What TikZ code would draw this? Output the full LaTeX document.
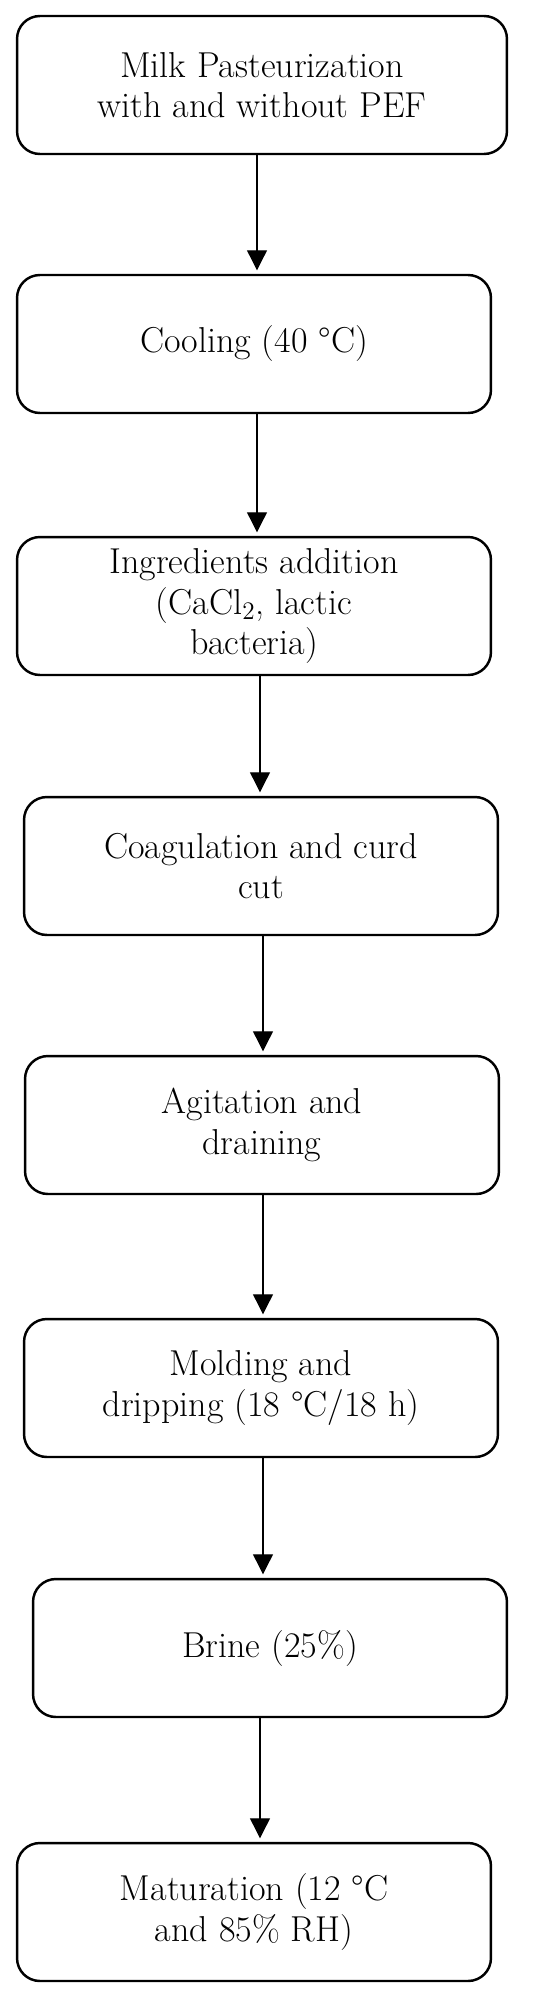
\documentclass[tikz,border=0pt]{standalone}
\usepackage{tikz}
\usepackage{xcolor}
\usetikzlibrary{
    arrows.meta,
    positioning
}
\definecolor{ink}{HTML}{000000}
\tikzset{
    % Process step style
    stage/.style={
        rectangle,
        rounded corners=13pt,
        minimum width=9.48cm,
        minimum height=2.76cm,
        align=center,
        font=\fontsize{20.5}{23}\selectfont,
        draw=ink,
        fill=white,
        line width=1.4pt
    },
    % Arrow style
    flow/.style={
        -{Triangle[length=0.4cm, width=0.4cm]},
        line width=0.7pt,
        color=ink,
        shorten >=2pt
    }
}
\begin{document}
\begin{tikzpicture}[x=0.02cm, y=-0.02cm]

        \useasboundingbox (0,0) rectangle (550,1998);

        % Steps
        \node[stage, minimum width=9.8cm] (milk) at (262, 85) {Milk Pasteurization\\with and without PEF};
        \node[stage] (cool) at (254, 344) {Cooling (40 \textdegree{}C)};
        \node[stage] (ingr) at (254, 606) {Ingredients addition\\(CaCl\textsubscript{2}, lactic\\bacteria)};
        \node[stage] (coag) at (261, 866) {Coagulation and curd\\cut};
        \node[stage] (agit) at (262, 1125) {Agitation and\\draining};
        \node[stage] (mold) at (261, 1388) {Molding and\\dripping (18 \textdegree{}C/18 h)};
        \node[stage] (brine) at (270, 1648) {Brine (25\%)};
        \node[stage] (mat) at (254, 1912) {Maturation (12 \textdegree{}C\\and 85\% RH)};

        % Connections
        \foreach \a/\b/\x in {milk/cool/257, cool/ingr/257, ingr/coag/260, coag/agit/263, agit/mold/263, mold/brine/263, brine/mat/260}
            \draw[flow] (\x,0 |- \a.south) -- (\x,0 |- \b.north);

\end{tikzpicture}
\end{document}
